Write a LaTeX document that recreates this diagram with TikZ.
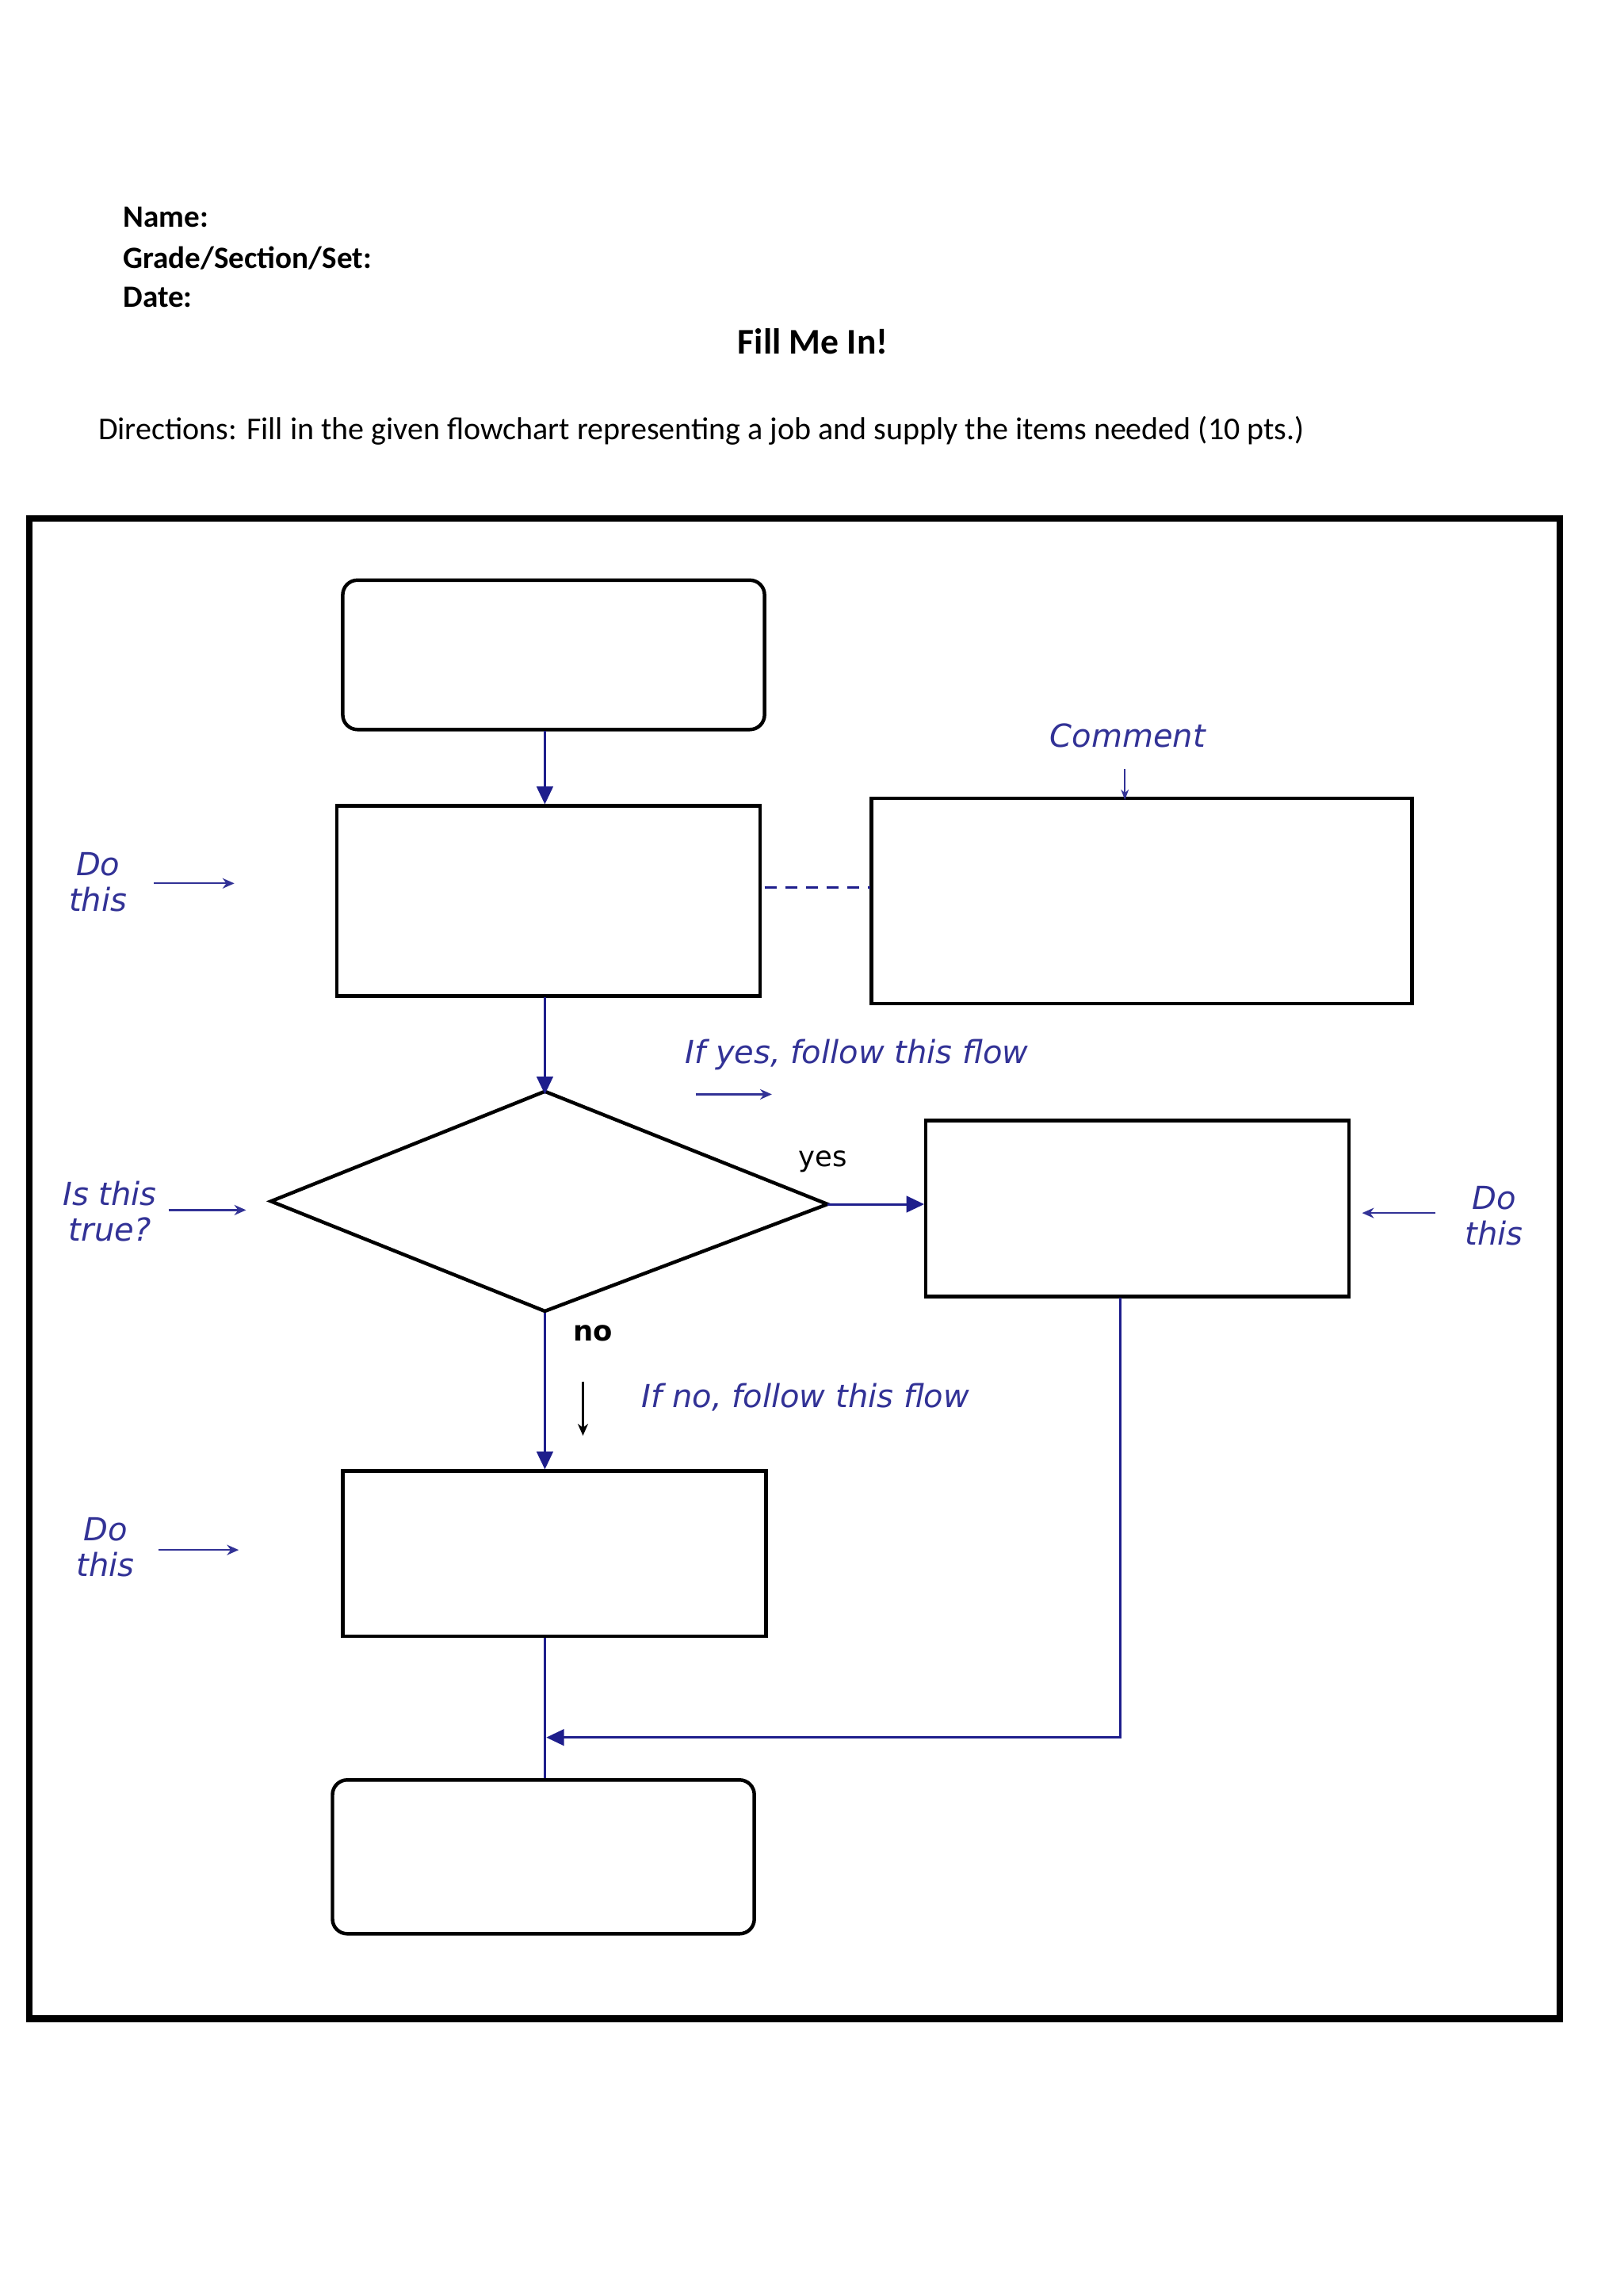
\documentclass[tikz,border=0pt]{standalone}
\usepackage{fontspec}
\setmainfont{Carlito}
\newfontfamily\lab{DejaVu Sans}
\usetikzlibrary{arrows.meta}
\definecolor{fb}{RGB}{30,30,140}
\definecolor{lb}{RGB}{50,50,150}
\tikzset{
 box/.style={draw=black,line width=2.4pt},
 rbox/.style={draw=black,line width=2.4pt,rounded corners=10pt},
 flow/.style={draw=fb,line width=1.6pt},
 flowa/.style={flow,-{Triangle[length=12pt,width=11pt]}},
 note/.style={font=\lab\itshape\fontsize{21.5}{24}\selectfont,text=lb,align=center,inner sep=0pt},
 narrow/.style={draw=lb,line width=1.2pt,-{Stealth[length=8pt,width=7pt]}},
 hdr/.style={font=\bfseries\fontsize{21}{23}\selectfont,anchor=west,inner sep=0pt}
}
\begin{document}
\begin{tikzpicture}[x=0.9925pt,y=-0.9925pt]
\useasboundingbox (0,0) rectangle (1108.3,1566.6);
\fill[white] (0,0) rectangle (1108.3,1566.6);
\node[hdr] (n1) at (84,148) {Name:};
\node[hdr] (n2) at (84,176) {Grade/Section/Set:};
\node[hdr] (n3) at (84,203) {Date:};
\node[font=\bfseries\fontsize{24.5}{27}\selectfont,inner sep=0pt] (t) at (555,233) {Fill Me In!};
\node[font=\fontsize{21.5}{23}\selectfont,anchor=west,inner sep=0pt] (d) at (67,294) {Directions: Fill in the given flowchart representing a job and supply the items needed (10 pts.)};
\draw[line width=4.5pt] (20,354) rectangle (1065,1378);
\draw[rbox] (234,396) rectangle (522,498);
\draw[box] (230,550) rectangle (519,680);
\draw[box] (595,545) rectangle (964,685);
\draw[flow,dashed,dash pattern=on 8pt off 6pt] (522,606) -- (594,606);
\draw[box] (185,820) -- (372,745) -- (565,822) -- (372,895) -- cycle;
\draw[box] (632,765) rectangle (921,885);
\draw[box] (234,1004) rectangle (523,1117);
\draw[rbox] (227,1215) rectangle (515,1320);
\draw[flowa] (372,499) -- (372,549);
\draw[flowa] (372,681) -- (372,747);
\draw[flowa] (565,822) -- (631,822);
\draw[flowa] (372,896) -- (372,1003);
\draw[flow] (372,1118) -- (372,1214);
\draw[flowa] (765,886) -- (765,1186) -- (373,1186);
\node[note] (c) at (770,502) {Comment};
\draw[draw=lb,line width=1pt,-{Stealth[length=7pt]}] (768,525) -- (768,546);
\node[note] (d1) at (67,602) {Do\\this};
\draw[narrow] (105,603) -- (160,603);
\node[note] (y) at (585,720) {If yes, follow this flow};
\draw[narrow] (475,747) -- (527,747);
\node[font=\lab\fontsize{19}{20}\selectfont,inner sep=0pt] (ys) at (562,793) {yes};
\node[note] (q) at (75,827) {Is this\\true?};
\draw[narrow] (115,826) -- (168,826);
\node[note] (d2) at (1020,830) {Do\\this};
\draw[narrow] (980,828) -- (930,828);
\node[font=\lab\bfseries\fontsize{19}{20}\selectfont,inner sep=0pt] (no) at (405,910) {no};
\node[note] (n) at (550,954) {If no, follow this flow};
\draw[line width=1.2pt,-{Stealth[length=8pt,width=7pt]}] (398,943) -- (398,980);
\node[note] (d3) at (72,1056) {Do\\this};
\draw[narrow] (108,1058) -- (163,1058);
\end{tikzpicture}
\end{document}
